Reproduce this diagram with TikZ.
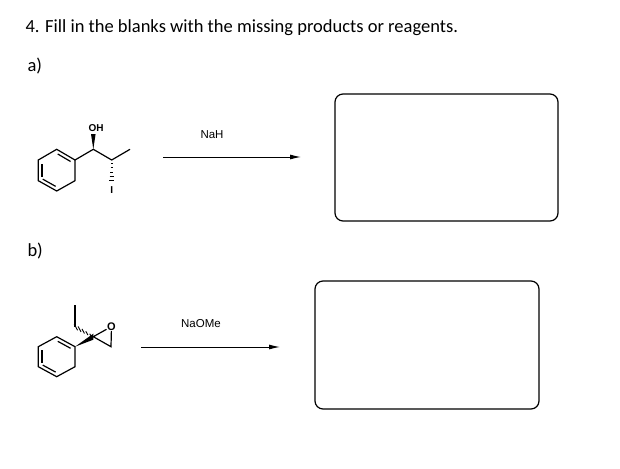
\documentclass[tikz,border=0pt]{standalone}
\usepackage{fontspec}
\setmainfont{Carlito}
\newfontfamily\arial{Liberation Sans}
\usetikzlibrary{arrows.meta,calc}
\begin{document}
\begin{tikzpicture}[x=1pt,y=-1pt,
  bond/.style={line width=1.2pt},
  ansbox/.style={draw,line width=1.2pt,rounded corners=8pt},
  rxn/.style={line width=1pt,-{Latex[length=11pt,width=5pt]}},
  lab/.style={font=\arial\fontsize{11.5}{13}\selectfont},
  title/.style={anchor=west,font=\fontsize{18.5}{22}\selectfont},
  atom/.style={font=\arial\bfseries\fontsize{10}{12}\selectfont,inner sep=0.5pt}]
\useasboundingbox (0,0) rectangle (620,468);
\node[title] (title) at (22,28) {4. Fill in the blanks with the missing products or reagents.};
\node[title] (la) at (24,66) {a)};
\node[title] (lb) at (24,251) {b)};
% molecule a
\coordinate (a1) at (56.7,149.3);\coordinate (a2) at (75,160);\coordinate (a3) at (75,180.7);
\coordinate (a4) at (56.7,191);\coordinate (a5) at (38.3,180.7);\coordinate (a6) at (38.3,160);
\draw[bond] (a1)--(a2)--(a3)--(a4)--(a5)--(a6)--cycle;
\draw[bond] ($(a1)!0.15!(a2)+(-1.7,3.1)$) -- ($(a1)!0.85!(a2)+(-1.7,3.1)$);
\draw[bond] ($(a4)!0.15!(a5)+(1.7,-3.1)$) -- ($(a4)!0.85!(a5)+(1.7,-3.1)$);
\draw[bond] (42,164) -- (42,177);
\coordinate (c1) at (93.3,149.3);\coordinate (c2) at (111.7,160);\coordinate (me) at (130,149.3);
\draw[bond] (a2)--(c1)--(c2)--(me);
\node[atom] (oh) at (96,128) {OH};
\fill (c1) -- (91,134) -- (95.6,134) -- cycle;
\node[atom] (iod) at (111.7,190) {I};
\foreach \t in {0.15,0.35,0.55,0.75,0.95}{\draw[line width=0.9pt] ($(c2)!\t!(111.7,182)+(-0.5-2*\t,0)$) -- ($(c2)!\t!(111.7,182)+(0.5+2*\t,0)$);}
\node[lab] (nah) at (212,135) {NaH};
\coordinate (aS) at (163,157);\coordinate (aE) at (301,157);
\draw[rxn] (aS)--(aE);
\node[ansbox,minimum width=223pt,minimum height=127pt] (boxa) at (446.5,157.5) {};
% molecule b
\coordinate (b1) at (56.7,336.7);\coordinate (b2) at (75,346.7);\coordinate (b3) at (75,366.7);
\coordinate (b4) at (56.7,376.7);\coordinate (b5) at (38.3,366.7);\coordinate (b6) at (38.3,346.7);
\draw[bond] (b1)--(b2)--(b3)--(b4)--(b5)--(b6)--cycle;
\draw[bond] ($(b1)!0.15!(b2)+(-1.7,3.1)$) -- ($(b1)!0.85!(b2)+(-1.7,3.1)$);
\draw[bond] ($(b4)!0.15!(b5)+(1.7,-3.1)$) -- ($(b4)!0.85!(b5)+(1.7,-3.1)$);
\draw[bond] (42,350) -- (42,363);
\coordinate (q) at (93.3,336.7);
\fill (b2) -- (93.3,333.7) -- (93.3,339.7) -- cycle;
\node[atom,font=\arial\bfseries\fontsize{11}{13}\selectfont] (ox) at (111.5,326.5) {O};
\coordinate (ch2) at (111,346.7);
\draw[bond] (q)--(ox) (q)--(ch2)--(ox);
\coordinate (hm) at (75,326.7);
\foreach \t in {0.15,0.35,0.55,0.75,0.95}{\draw[line width=0.9pt] ($(q)!\t!(hm)+(0.7+1*\t,1.2+2*\t)$) -- ($(q)!\t!(hm)+(-0.7-1*\t,-1.2-2*\t)$);}
\coordinate (mb) at (75,305);
\draw[bond] (hm)--(mb);
\node[lab] (naome) at (201,324) {NaOMe};
\coordinate (bS) at (141,347);\coordinate (bE) at (280,347);
\draw[rxn] (bS)--(bE);
\node[ansbox,minimum width=224pt,minimum height=128pt] (boxb) at (427,345) {};
\end{tikzpicture}
\end{document}
